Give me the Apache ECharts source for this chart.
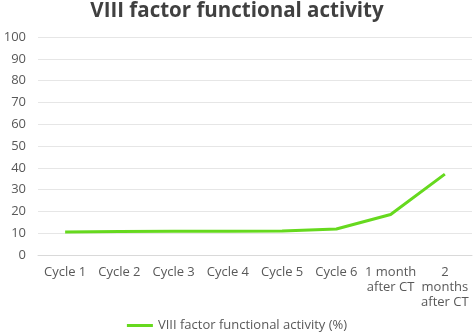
<!DOCTYPE html>
<html><head><meta charset="utf-8">
<script src="https://cdn.jsdelivr.net/npm/echarts@6/dist/echarts.min.js"></script>
<style>html,body{margin:0;padding:0;background:#fff}#c{width:474px;height:332px}</style>
</head><body><div id="c"></div>
<script>
var categories = ["Cycle 1","Cycle 2","Cycle 3","Cycle 4","Cycle 5","Cycle 6","1 month\nafter CT","2\nmonths\nafter CT"];
var seriesName = "VIII factor functional activity (%)";
var values = [10.5, 10.8, 10.9, 10.9, 11.0, 11.9, 18.6, 37.1];
var titleText = "VIII factor functional activity";
var chart = echarts.init(document.getElementById('c'));
chart.setOption({
  animation:false,
  title:{text:titleText,left:'center',top:-4,textStyle:{fontFamily:'Open Sans',fontWeight:'bold',fontSize:20.5,color:'#404040'}},
  grid:{left:38,right:2,top:37,bottom:77},
  legend:{top:314,left:'center',itemWidth:26,itemHeight:3,icon:'rect',textStyle:{fontFamily:'Open Sans',fontSize:13,color:'#595959'},data:[seriesName]},
  xAxis:{type:'category',data:categories,boundaryGap:true,axisLine:{lineStyle:{color:'#d9d9d9'}},axisTick:{show:false},
    axisLabel:{interval:0,fontFamily:'Open Sans',fontSize:13,color:'#595959',lineHeight:15,margin:10}},
  yAxis:{type:'value',min:0,max:100,interval:10,axisLine:{show:false},axisTick:{show:false},
    splitLine:{lineStyle:{color:'#e6e6e6'}},axisLabel:{fontFamily:'Open Sans',fontSize:13,color:'#595959',margin:12}},
  series:[{name:seriesName,type:'line',data:values,symbol:'none',lineStyle:{width:3,color:'#66d91e'},itemStyle:{color:'#66d91e'}}]
});
</script></body></html>
